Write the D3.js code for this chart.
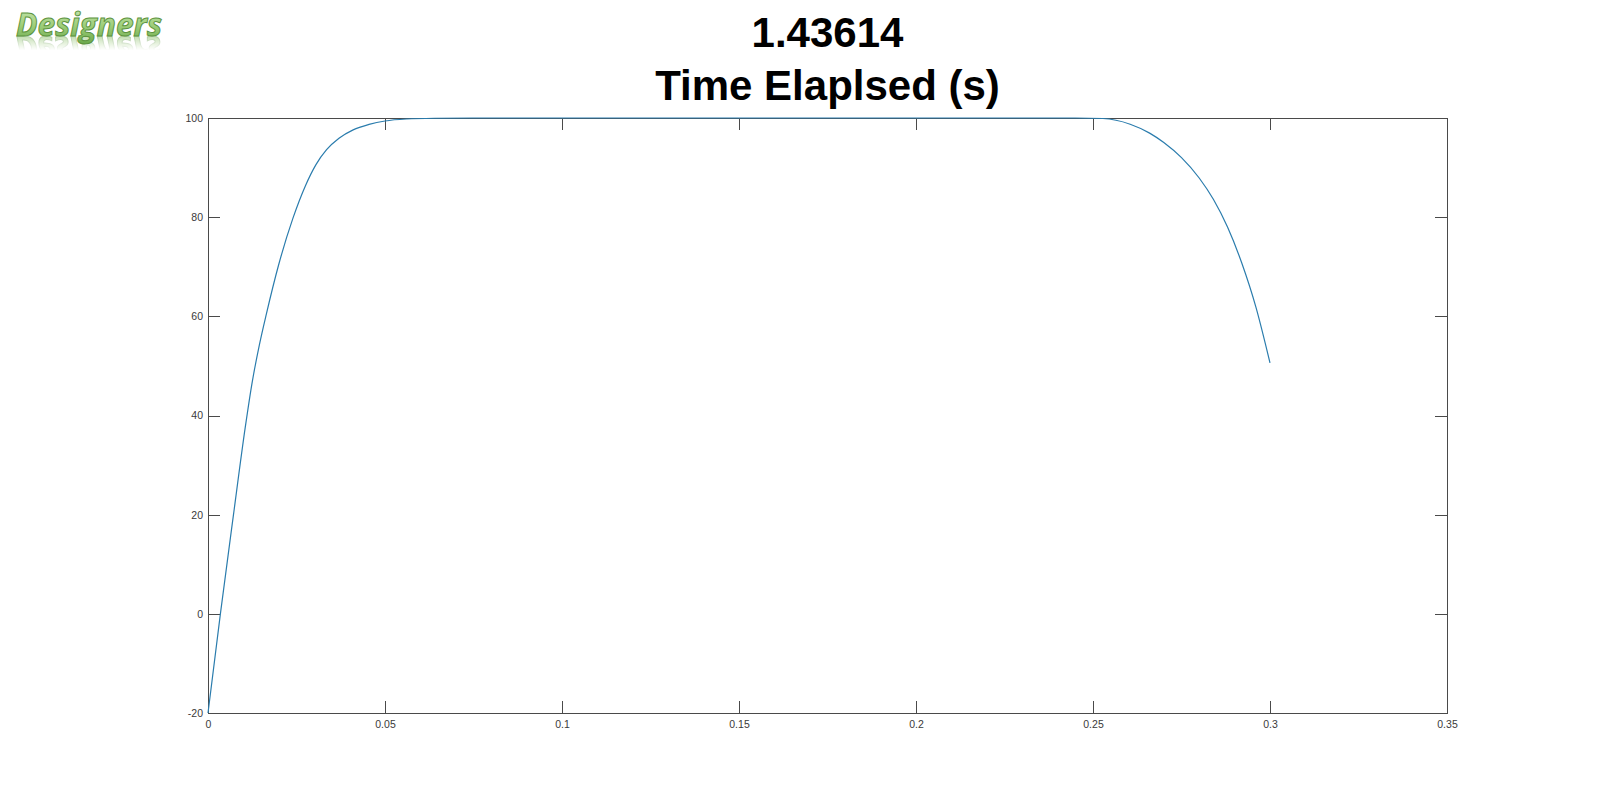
<!DOCTYPE html>
<html>
<head>
<meta charset="utf-8">
<script src="https://cdn.jsdelivr.net/npm/d3@7"></script>
<style>
  html, body { margin: 0; padding: 0; background: #ffffff; }
  svg { display: block; }
  .tick text { font-family: "Liberation Sans", Arial, sans-serif; font-size: 10.5px; fill: #3a3a3a; }
  .tick line { stroke: #4a4a4a; shape-rendering: crispEdges; }
</style>
</head>
<body>
<svg id="chart" width="1600" height="802"></svg>
<script>
// ---------------- data ----------------
const titleLines = ["1.43614", "Time Elaplsed (s)"];
const logoText = "Designers";

const xTicks = [0, 0.05, 0.1, 0.15, 0.2, 0.25, 0.3, 0.35];
const xTickLabels = ["0", "0.05", "0.1", "0.15", "0.2", "0.25", "0.3", "0.35"];
const yTicks = [-20, 0, 20, 40, 60, 80, 100];
const yTickLabels = ["-20", "0", "20", "40", "60", "80", "100"];
const xDomain = [0, 0.35];
const yDomain = [-20, 100];

// time (s)
const timeS = [
  0, 0.0035, 0.0072, 0.0105, 0.0125, 0.0145, 0.0165, 0.0200, 0.0240, 0.0275,
  0.0305, 0.0335, 0.0370, 0.0410, 0.0455, 0.0500, 0.0560, 0.0640, 0.0750,
  0.1000, 0.1500, 0.2000, 0.2450,
  0.2528, 0.2605, 0.2660, 0.2700, 0.2750, 0.2800, 0.2840, 0.2880,
  0.2920, 0.2960, 0.3000
];
// response value
const values = [
  -20, 0, 20, 37.5, 46.8, 54.2, 60.5, 70.5, 79.8, 86.3,
  90.6, 93.6, 95.9, 97.6, 98.7, 99.4, 99.8, 99.95, 100,
  100, 100, 100, 100,
  99.9, 98.75, 96.95, 95.05, 92.0, 87.9, 83.6, 78.0,
  70.8, 61.9, 50.6
];

// ---------------- layout ----------------
const svg = d3.select("#chart");
const plot = { left: 208, right: 1447, top: 118, bottom: 713 };
const tickLen = 12;

const x = d3.scaleLinear().domain(xDomain).range([plot.left, plot.right]);
const y = d3.scaleLinear().domain(yDomain).range([plot.bottom, plot.top]);

// ---------------- logo ----------------
const defs = svg.append("defs");
const g1 = defs.append("linearGradient").attr("id", "logoFill")
  .attr("x1", 0).attr("y1", 0).attr("x2", 0).attr("y2", 1);
g1.append("stop").attr("offset", "0%").attr("stop-color", "#d4ecc0");
g1.append("stop").attr("offset", "55%").attr("stop-color", "#9fcf7c");
g1.append("stop").attr("offset", "100%").attr("stop-color", "#6aa84a");

const g2 = defs.append("linearGradient").attr("id", "reflFade")
  .attr("x1", 0).attr("y1", 0).attr("x2", 0).attr("y2", 1);
g2.append("stop").attr("offset", "0%").attr("stop-color", "#fff").attr("stop-opacity", 0.55);
g2.append("stop").attr("offset", "70%").attr("stop-color", "#fff").attr("stop-opacity", 0.0);
const mask = defs.append("mask").attr("id", "reflMask").attr("maskUnits", "userSpaceOnUse")
  .attr("x", 0).attr("y", 34).attr("width", 200).attr("height", 30);
mask.append("rect").attr("x", 0).attr("y", 35).attr("width", 200).attr("height", 22)
  .attr("fill", "url(#reflFade)");

const logoBase = 35.5;

// reflection group drawn first (uses the main logo text below)
const reflG = svg.append("g").attr("mask", "url(#reflMask)");

svg.append("text")
  .attr("id", "logoMain")
  .attr("x", 16).attr("y", logoBase)
  .attr("fill", "url(#logoFill)")
  .attr("stroke", "#5d9440").attr("stroke-width", 1)
  .attr("font-family", "'Open Sans', 'DejaVu Sans', sans-serif")
  .attr("font-size", 32)
  .attr("font-weight", 700)
  .attr("font-style", "italic")
  .attr("textLength", 146)
  .attr("lengthAdjust", "spacingAndGlyphs")
  .text(logoText);

reflG.append("use")
  .attr("href", "#logoMain")
  .attr("transform", `translate(0,${2 * logoBase}) scale(1,-1)`);

// ---------------- title ----------------
const titleX = (plot.left + plot.right) / 2;
const titleBaselines = [47, 100];
svg.selectAll("text.title").data(titleLines).join("text")
  .attr("class", "title")
  .attr("x", titleX)
  .attr("y", (d, i) => titleBaselines[i])
  .attr("text-anchor", "middle")
  .attr("font-family", "'Liberation Sans', Arial, sans-serif")
  .attr("font-size", 42)
  .attr("font-weight", 700)
  .attr("fill", "#000")
  .text(d => d);

// ---------------- axes ----------------
const fmtX = d => xTickLabels[xTicks.indexOf(d)];
const fmtY = d => yTickLabels[yTicks.indexOf(d)];

const gBottom = svg.append("g").attr("transform", `translate(0,${plot.bottom})`)
  .call(d3.axisBottom(x).tickValues(xTicks).tickFormat(fmtX)
    .tickSizeInner(-tickLen).tickSizeOuter(0).tickPadding(8));
gBottom.selectAll(".tick text").attr("y", 8).attr("dy", "0.71em");

const gTop = svg.append("g").attr("transform", `translate(0,${plot.top})`)
  .call(d3.axisTop(x).tickValues(xTicks).tickFormat("")
    .tickSizeInner(-tickLen).tickSizeOuter(0));

const gLeft = svg.append("g").attr("transform", `translate(${plot.left},0)`)
  .call(d3.axisLeft(y).tickValues(yTicks).tickFormat(fmtY)
    .tickSizeInner(-tickLen).tickSizeOuter(0).tickPadding(5));
gLeft.selectAll(".tick text").attr("x", -5);

const gRight = svg.append("g").attr("transform", `translate(${plot.right},0)`)
  .call(d3.axisRight(y).tickValues(yTicks).tickFormat("")
    .tickSizeInner(-tickLen).tickSizeOuter(0));

[gBottom, gTop, gLeft, gRight].forEach(g => g.select(".domain").remove());

// box
svg.append("rect")
  .attr("x", plot.left + 0.5).attr("y", plot.top + 0.5)
  .attr("width", plot.right - plot.left).attr("height", plot.bottom - plot.top)
  .attr("fill", "none").attr("stroke", "#4a4a4a").attr("stroke-width", 1)
  .attr("shape-rendering", "crispEdges");

// ---------------- line ----------------
const pts = timeS.map((t, i) => [t, values[i]]);
const line = d3.line()
  .x(d => x(d[0]))
  .y(d => y(d[1]))
  .curve(d3.curveMonotoneX);

svg.append("path")
  .datum(pts)
  .attr("d", line)
  .attr("fill", "none")
  .attr("stroke", "#2a7cad")
  .attr("stroke-width", 1.2);
</script>
</body>
</html>
